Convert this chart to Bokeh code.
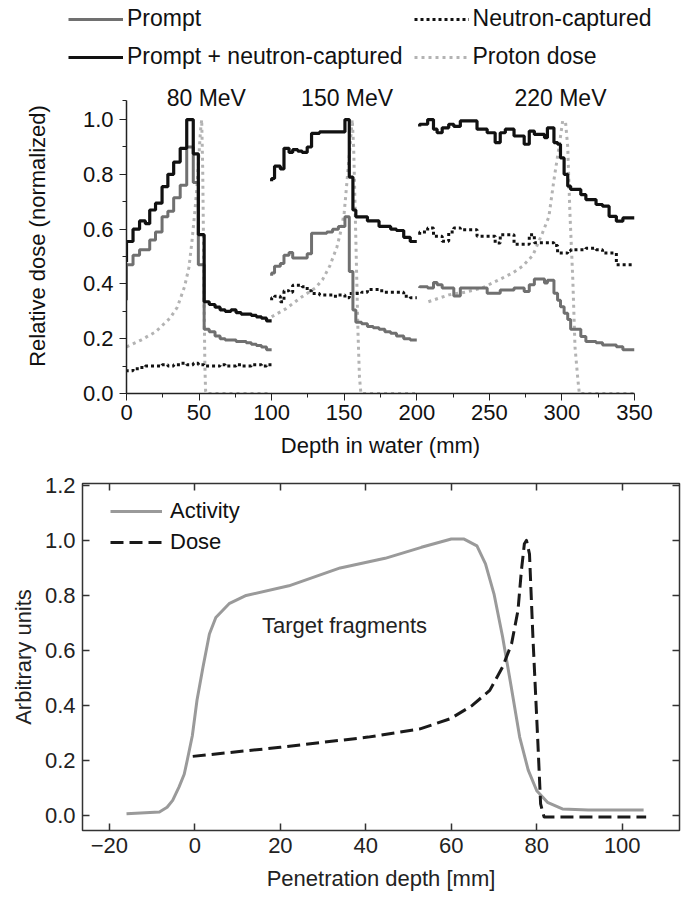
import numpy as np
from bokeh.plotting import figure
from bokeh.models import (Legend, LegendItem, Label, LinearAxis, FixedTicker,
                          PrintfTickFormatter, Range1d)
from bokeh.layouts import column, row
from bokeh.embed import file_html
from bokeh.resources import INLINE

# ---- upper panel: prompt gamma profiles for three beam energies ----
energy_labels = ["80 MeV", "150 MeV", "220 MeV"]
energy_label_x = [55, 152, 299]

d80 = [0, 4.5, 9, 13, 16, 20, 24.5, 28.5, 32.5, 37, 41.5, 46, 49.5, 53.5, 57,
       61, 64.5, 68, 72, 75.5, 79, 82.5, 86, 89.5, 93, 96.5, 100]
sum80 = [0.555, 0.60, 0.63, 0.62, 0.67, 0.695, 0.755, 0.80, 0.845, 0.895, 1.0,
         0.875, 0.58, 0.335, 0.325, 0.315, 0.305, 0.30, 0.305, 0.295, 0.29,
         0.29, 0.285, 0.28, 0.275, 0.265]
prompt80 = [0.47, 0.505, 0.525, 0.525, 0.56, 0.59, 0.645, 0.665, 0.715, 0.76,
            0.90, 0.77, 0.47, 0.235, 0.225, 0.21, 0.20, 0.195, 0.195, 0.19,
            0.19, 0.185, 0.18, 0.175, 0.17, 0.16]
neutron80 = [0.083, 0.09, 0.095, 0.10, 0.10, 0.10, 0.105, 0.10, 0.105, 0.11,
             0.105, 0.11, 0.105, 0.10, 0.10, 0.10, 0.105, 0.10, 0.10, 0.105,
             0.10, 0.10, 0.105, 0.105, 0.10, 0.105]
# значения в самой первой точке (вертикальный вход ступеньки)
start80 = {"sum": 0.48, "prompt": 0.34, "neutron": 0.08}
px80 = [0, 10, 20, 30, 35, 40, 43, 45, 47, 48.5, 50, 51, 51.8, 52.5, 53, 53.5,
        54, 54.5, 55, 100]
py80 = [0.17, 0.195, 0.225, 0.275, 0.315, 0.39, 0.46, 0.55, 0.66, 0.75, 0.88,
        0.96, 1.0, 0.82, 0.58, 0.32, 0.10, 0.01, 0.0, 0.0]

d150 = [100, 102, 106, 108.5, 112, 114.5, 118, 121, 124.5, 127.5, 133, 138,
        142, 146, 150.5, 153.5, 156, 158, 162, 166, 170, 174, 178, 182, 186,
        191, 195.5, 200]
sum150 = [0.785, 0.83, 0.82, 0.895, 0.88, 0.89, 0.885, 0.88, 0.90, 0.95, 0.955,
          0.955, 0.955, 0.955, 1.0, 0.79, 0.67, 0.645, 0.645, 0.63, 0.63, 0.61,
          0.61, 0.60, 0.595, 0.57, 0.555]
prompt150 = [0.44, 0.465, 0.475, 0.505, 0.515, 0.495, 0.495, 0.495, 0.51,
             0.585, 0.585, 0.59, 0.60, 0.61, 0.645, 0.445, 0.305, 0.26, 0.255,
             0.245, 0.24, 0.235, 0.225, 0.22, 0.21, 0.20, 0.195]
neutron150 = [0.35, 0.355, 0.335, 0.375, 0.37, 0.395, 0.395, 0.39, 0.375,
              0.365, 0.36, 0.36, 0.355, 0.36, 0.35, 0.365, 0.365, 0.365, 0.37,
              0.38, 0.38, 0.375, 0.37, 0.37, 0.37, 0.355, 0.35]
start150 = {"sum": 0.775, "prompt": 0.43, "neutron": 0.34}
px150 = [100, 110, 120, 130, 135, 140, 145, 148, 150, 152, 154, 155.5, 156.5,
         157.5, 158.5, 159.5, 160.5, 161.5, 200]
py150 = [0.28, 0.31, 0.35, 0.385, 0.415, 0.465, 0.535, 0.60, 0.66, 0.78, 0.90,
         1.0, 0.90, 0.68, 0.45, 0.22, 0.06, 0.0, 0.0]

d220 = [202, 207.5, 211.5, 214, 217.5, 222, 225.5, 230, 234.5, 241.5, 248.5,
        254, 257.5, 261, 267, 274, 277.5, 281, 288, 290, 294.5, 297, 299,
        301.5, 304, 306, 313, 316.5, 323.5, 328, 332.5, 337.5, 342, 350]
sum220 = [0.983, 1.0, 0.965, 0.952, 0.97, 0.983, 0.975, 0.995, 0.995, 0.965,
          0.952, 0.916, 0.952, 0.965, 0.94, 0.91, 0.958, 0.946, 0.934, 0.97,
          0.916, 0.91, 0.86, 0.80, 0.757, 0.745, 0.726, 0.708, 0.69, 0.684,
          0.647, 0.629, 0.641]
prompt220 = [0.39, 0.385, 0.405, 0.397, 0.385, 0.385, 0.356, 0.385, 0.385,
             0.385, 0.366, 0.366, 0.378, 0.378, 0.385, 0.372, 0.397, 0.418,
             0.403, 0.413, 0.366, 0.34, 0.317, 0.293, 0.27, 0.235, 0.208, 0.19,
             0.185, 0.177, 0.177, 0.171, 0.16]
neutron220 = [0.59, 0.604, 0.574, 0.574, 0.556, 0.59, 0.604, 0.598, 0.598,
              0.574, 0.574, 0.549, 0.58, 0.58, 0.545, 0.545, 0.58, 0.55, 0.55,
              0.55, 0.54, 0.513, 0.513, 0.513, 0.52, 0.525, 0.525, 0.53, 0.525,
              0.513, 0.513, 0.47, 0.47]
start220 = {"sum": 0.975, "prompt": 0.385, "neutron": 0.58}
px220 = [208, 222, 233.5, 245, 256.5, 266, 273, 280, 286.5, 291, 294.5, 298,
         300.5, 302.5, 304, 305.5, 307.5, 309, 311, 312, 350]
py220 = [0.335, 0.36, 0.37, 0.385, 0.415, 0.44, 0.465, 0.505, 0.585, 0.645,
         0.78, 0.90, 0.995, 0.99, 0.90, 0.66, 0.415, 0.17, 0.05, 0.0, 0.0]

# ---- lower panel: activity vs dose ----
act_x = [-16, -8.3, -6.5, -5.2, -3.7, -2.5, -1.8, -0.6, 0.5, 1.9, 3.4, 4.9, 8,
         12, 22, 34, 44.5, 53, 60, 63, 66, 68, 70, 72, 74, 76, 78, 80, 82.5,
         86, 92, 105]
act_y = [0.006, 0.013, 0.03, 0.055, 0.104, 0.15, 0.2, 0.29, 0.42, 0.54, 0.66,
         0.72, 0.77, 0.80, 0.835, 0.90, 0.935, 0.975, 1.005, 1.005, 0.98,
         0.915, 0.805, 0.65, 0.47, 0.285, 0.165, 0.09, 0.048, 0.024, 0.02,
         0.02]
dose_x = [-0.5, 20, 40.5, 52.7, 59.8, 64.9, 69, 72, 74.1, 75.6, 76.4, 77.1,
          77.6, 78.3, 79.1, 80.2, 80.9, 81.7, 105.6]
dose_y = [0.215, 0.248, 0.285, 0.315, 0.352, 0.40, 0.455, 0.54, 0.624, 0.745,
          0.89, 0.988, 1.0, 0.95, 0.648, 0.285, 0.042, -0.005, -0.005]

FONT = "Liberation Sans"

STYLE_PROTON = dict(line_color="#b3b3b3", line_width=3, line_dash="3 4")
STYLE_NEUTRON = dict(line_color="#111111", line_width=3, line_dash="3 3")
STYLE_PROMPT = dict(line_color="#707070", line_width=3)
STYLE_SUM = dict(line_color="#111111", line_width=3.2)


def add_steps(p, edges, values, start, **kw):
    # ступенчатая линия по границам бинов
    xs = [edges[0]] + list(edges)
    ys = [start] + list(values) + [values[-1]]
    return p.step(x=xs, y=ys, mode="after", **kw)


def style_legend(legend, size):
    legend.border_line_color = None
    legend.background_fill_alpha = 0
    legend.padding = 0
    legend.margin = 0
    legend.label_text_font = FONT
    legend.label_text_font_size = size
    legend.label_text_color = "#111111"


def create_header():
    # отдельная полоса для легенды верхнего графика
    h = figure(width=685, height=72, x_range=Range1d(0, 1), y_range=Range1d(0, 1),
               x_axis_location=None, y_axis_location=None, output_backend="svg",
               toolbar_location=None, min_border=0)
    h.outline_line_color = None
    h.grid.grid_line_color = None
    rs = [h.line([np.nan], [np.nan], **s) for s in
          (STYLE_PROMPT, STYLE_SUM, STYLE_NEUTRON, STYLE_PROTON)]
    labels = ["Prompt", "Prompt + neutron-captured", "Neutron-captured",
              "Proton dose"]
    legend = Legend(items=[LegendItem(label=l, renderers=[r])
                           for l, r in zip(labels, rs)],
                    ncols=2, location=(68, 2))
    style_legend(legend, "23px")
    legend.glyph_width = 55
    legend.glyph_height = 26
    legend.label_height = 26
    legend.label_standoff = 4
    legend.spacing = 11
    h.add_layout(legend)
    return h


def create_top():
    p = figure(width=685, height=398, x_range=Range1d(0, 350),
               y_range=Range1d(0, 1.15), output_backend="svg",
               toolbar_location=None, min_border_left=126,
               min_border_right=51, min_border_top=6, min_border_bottom=77)
    p.outline_line_color = None
    p.grid.grid_line_color = None

    xa = p.xaxis[0]
    xa.ticker = FixedTicker(ticks=list(range(0, 351, 50)),
                            minor_ticks=list(range(25, 350, 50)))
    ya = p.yaxis[0]
    ya.ticker = FixedTicker(ticks=[0, 0.2, 0.4, 0.6, 0.8, 1.0],
                            minor_ticks=[0.1, 0.3, 0.5, 0.7, 0.9, 1.07])
    ya.formatter = PrintfTickFormatter(format="%.1f")
    ya.bounds = (0, 1.07)
    for ax in (xa, ya):
        ax.axis_line_color = "#222222"
        ax.axis_line_width = 1.5
        ax.major_tick_line_color = "#222222"
        ax.minor_tick_line_color = "#222222"
        ax.major_tick_in = 0
        ax.major_tick_out = 7
        ax.minor_tick_in = 0
        ax.minor_tick_out = 4
        ax.major_label_text_font = FONT
        ax.major_label_text_font_size = "22px"
        ax.major_label_text_color = "#111111"
        ax.axis_label_text_font = FONT
        ax.axis_label_text_font_size = "22px"
        ax.axis_label_text_font_style = "normal"
        ax.axis_label_text_color = "#111111"
    xa.axis_label = "Depth in water (mm)"
    xa.axis_label_standoff = 10
    xa.major_label_standoff = 4
    ya.axis_label = "Relative dose (normalized)"
    ya.axis_label_standoff = 30
    ya.major_label_standoff = 6

    for px, py in ((px80, py80), (px150, py150), (px220, py220)):
        p.line(px, py, **STYLE_PROTON)
    blocks = ((d80, sum80, prompt80, neutron80, start80),
              (d150, sum150, prompt150, neutron150, start150),
              (d220, sum220, prompt220, neutron220, start220))
    for d, s, pr, ne, st in blocks:
        add_steps(p, d, ne, st["neutron"], **STYLE_NEUTRON)
    for d, s, pr, ne, st in blocks:
        add_steps(p, d, pr, st["prompt"], **STYLE_PROMPT)
    for d, s, pr, ne, st in blocks:
        add_steps(p, d, s, st["sum"], **STYLE_SUM)

    for txt, x in zip(energy_labels, energy_label_x):
        p.add_layout(Label(x=x, y=1.08, text=txt, text_align="center",
                           text_baseline="middle", text_font=FONT,
                           text_font_size="23px", text_color="#111111"))
    return p


def create_bottom():
    q = figure(width=685, height=437, x_range=Range1d(-26.3, 113.4),
               y_range=Range1d(-0.0545, 1.207), output_backend="svg",
               toolbar_location=None, min_border_left=82, min_border_right=6,
               min_border_top=13, min_border_bottom=77)
    q.grid.grid_line_color = None
    q.outline_line_color = "#333333"
    q.outline_line_width = 1.5

    xticks = [-20, 0, 20, 40, 60, 80, 100]
    yticks = [0, 0.2, 0.4, 0.6, 0.8, 1.0, 1.2]
    xa = q.xaxis[0]
    xa.ticker = FixedTicker(ticks=xticks)
    xa.major_label_overrides = {-20: "\u221220"}
    ya = q.yaxis[0]
    ya.ticker = FixedTicker(ticks=yticks)
    ya.formatter = PrintfTickFormatter(format="%.1f")
    for ax in (xa, ya):
        ax.axis_line_color = None
        ax.major_tick_line_color = "#333333"
        ax.major_tick_line_width = 1.5
        ax.major_tick_in = 7
        ax.major_tick_out = 0
        ax.minor_tick_line_color = None
        ax.major_label_standoff = 7
        ax.major_label_text_font = FONT
        ax.major_label_text_font_size = "22px"
        ax.major_label_text_color = "#222222"
        ax.axis_label_text_font = FONT
        ax.axis_label_text_font_size = "22px"
        ax.axis_label_text_font_style = "normal"
        ax.axis_label_text_color = "#222222"
    xa.axis_label = "Penetration depth [mm]"
    xa.axis_label_standoff = 10
    ya.axis_label = "Arbitrary units"
    ya.axis_label_standoff = 6

    # засечки на правой и верхней рамке без подписей
    for ticks, place in ((yticks, "right"), (xticks, "above")):
        ax = LinearAxis(ticker=FixedTicker(ticks=ticks))
        ax.major_label_overrides = {t: "" for t in ticks}
        ax.axis_line_color = None
        ax.major_tick_line_color = "#333333"
        ax.major_tick_line_width = 1.5
        ax.major_tick_in = 7
        ax.major_tick_out = 0
        ax.minor_tick_line_color = None
        ax.major_label_text_font_size = "1px"
        ax.major_label_standoff = 0
        q.add_layout(ax, place)

    r_act = q.line(act_x, act_y, line_color="#9a9a9a", line_width=3,
                   line_join="round")
    r_dose = q.line(dose_x, dose_y, line_color="#1a1a1a", line_width=3,
                    line_dash="13 6", line_join="round")

    legend = Legend(items=[LegendItem(label="Activity", renderers=[r_act]),
                           LegendItem(label="Dose", renderers=[r_dose])],
                    location=(28, 275))
    style_legend(legend, "22px")
    legend.glyph_width = 52
    legend.glyph_height = 22
    legend.label_height = 22
    legend.label_standoff = 8
    legend.spacing = 5
    q.add_layout(legend)

    q.add_layout(Label(x=35, y=0.69, text="Target fragments",
                       text_align="center", text_baseline="middle",
                       text_font=FONT, text_font_size="22px",
                       text_color="#222222"))
    return q


if __name__ == '__main__':
    layout = column(row(create_header()), row(create_top()),
                    row(create_bottom()))
    with open("out.html", "w") as f:
        f.write(file_html(layout, INLINE))
